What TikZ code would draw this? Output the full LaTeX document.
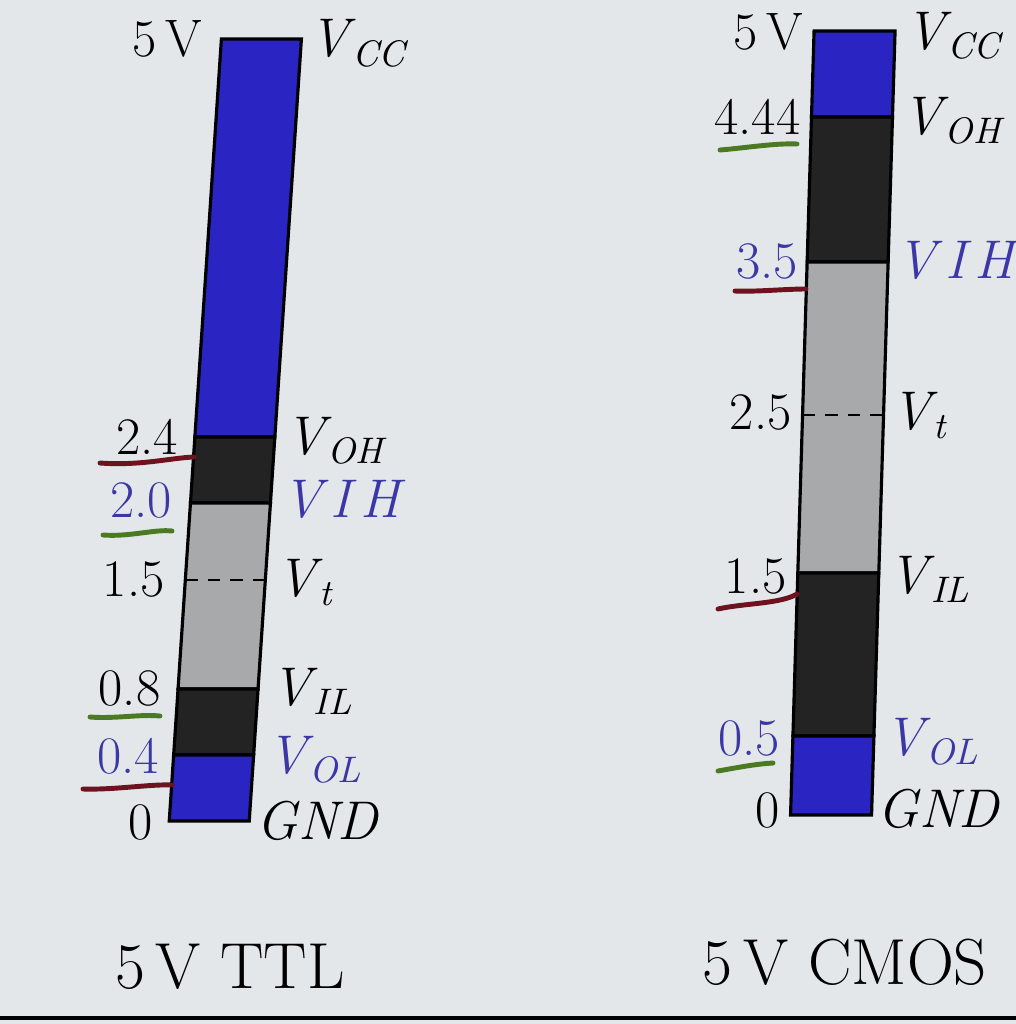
\documentclass[tikz,border=0pt]{standalone}
\usepackage{fontspec}
\usepackage{xcolor}
\definecolor{barblue}{HTML}{2A24C2}
\definecolor{bandblack}{HTML}{232323}
\definecolor{bandgray}{HTML}{A7A9AB}
\definecolor{inkblue}{HTML}{3B37A6}
\definecolor{penred}{HTML}{6E1220}
\definecolor{pengreen}{HTML}{4B7A22}
\definecolor{paper}{HTML}{E3E7EA}
\newcommand{\volt}[2]{\textit{#1}\kern-0.08em\raisebox{-0.18em}{\fontsize{10.5}{12}\selectfont\textit{#2}}}

\begin{document}
\begin{tikzpicture}[
    x=0.01cm, y=-0.01cm,
    band/.style={draw=black, line width=0.9pt, fill=#1},
    band/.default=bandgray,
    lvl/.style={font=\fontsize{15}{17}\selectfont, anchor=base east, inner sep=0pt},
    sig/.style={font=\fontsize{15.5}{18}\selectfont, anchor=base west, inner sep=0pt},
    pen/.style={draw=#1, line width=1.4pt, line cap=round},
    title/.style={font=\fontsize{18.5}{22}\selectfont, anchor=base},
    vt/.style={line width=0.8pt, dash pattern=on 3.6pt off 2.8pt}
]

\useasboundingbox[fill=paper] (0,0) rectangle (1016,1024);

% 5 V TTL bar
\begin{scope}[xslant=0.0667]
\draw[band=barblue] (224,39) rectangle (304,437);
\draw[band=bandblack] (224,437) rectangle (304,503);
\draw[band] (224,503) rectangle (304,689);
\draw[band=bandblack] (224,689) rectangle (304,755);
\draw[band=barblue] (224,755) rectangle (304,821);
\coordinate (ttl-vt-l) at (224,580);
\coordinate (ttl-vt-r) at (304,580);
\draw[vt] (ttl-vt-l) -- (ttl-vt-r);

\node[lvl] (ttl-5v) at (207,57) {5\,V};
\node[lvl] (ttl-24) at (209,454) {2.4};
\node[lvl, text=inkblue] (ttl-20) at (207,517) {2.0};
\node[lvl] (ttl-15) at (205,596) {1.5};
\node[lvl] (ttl-08) at (208,705) {0.8};
\node[lvl, text=inkblue] (ttl-04) at (211,773) {0.4};
\node[lvl] (ttl-0) at (209,839) {0};

\node[sig] (ttl-vcc) at (313,57) {\volt{V}{CC}};
\node[sig] (ttl-voh) at (315,454) {\volt{V}{OH}};
\node[sig, text=inkblue] (ttl-vih) at (316,517) {\textit{V\,I\,H}};
\node[sig] (ttl-vt) at (316,596) {\volt{V}{t}};
\node[sig] (ttl-vil) at (318,705) {\volt{V}{IL}};
\node[sig, text=inkblue] (ttl-vol) at (318,773) {\volt{V}{OL}};
\node[sig] (ttl-gnd) at (312,839) {\textit{GND}};
\end{scope}

% 5 V CMOS bar
\begin{scope}[xslant=0.03]
\draw[band=barblue] (815,31) rectangle (896,117);
\draw[band=bandblack] (815,117) rectangle (896,262);
\draw[band] (815,262) rectangle (896,573);
\draw[band=bandblack] (815,573) rectangle (896,736);
\draw[band=barblue] (815,736) rectangle (896,815);
\coordinate (cmos-vt-l) at (815,415);
\coordinate (cmos-vt-r) at (896,415);
\draw[vt] (cmos-vt-l) -- (cmos-vt-r);

\node[lvl] (cmos-5v) at (805,50) {5\,V};
\node[lvl] (cmos-444) at (805,134) {4.44};
\node[lvl, text=inkblue] (cmos-35) at (807,278) {3.5};
\node[lvl] (cmos-25) at (805,429) {2.5};
\node[lvl] (cmos-15) at (805,593) {1.5};
\node[lvl, text=inkblue] (cmos-05) at (803,755) {0.5};
\node[lvl] (cmos-0) at (805,827) {0};

\node[sig] (cmos-vcc) at (906,49) {\volt{V}{CC}};
\node[sig] (cmos-voh) at (906,134) {\volt{V}{OH}};
\node[sig, text=inkblue] (cmos-vih) at (904,278) {\textit{V\,I\,H}};
\node[sig] (cmos-vt) at (904,429) {\volt{V}{t}};
\node[sig] (cmos-vil) at (906,593) {\volt{V}{IL}};
\node[sig, text=inkblue] (cmos-vol) at (906,755) {\volt{V}{OL}};
\node[sig] (cmos-gnd) at (902,827) {\textit{GND}};
\end{scope}

% pen marks
\draw[pen=penred] (100,463) .. controls (140,466) and (170,458) .. (194,457);
\draw[pen=pengreen] (103,535) .. controls (130,537) and (155,529) .. (172,531);
\draw[pen=pengreen] (90,717) .. controls (115,719) and (140,714) .. (160,716);
\draw[pen=penred] (83,789) .. controls (115,790) and (150,784) .. (172,785);
\draw[pen=pengreen] (720,150) .. controls (745,148) and (775,143) .. (797,144);
\draw[pen=penred] (735,291) .. controls (755,292) and (785,289) .. (806,289);
\draw[pen=penred] (718,609) .. controls (745,603) and (780,604) .. (797,594);
\draw[pen=pengreen] (718,771) .. controls (735,768) and (755,764) .. (773,763);

% titles
\node[title] (ttl-title) at (230,988) {5\,V TTL};
\node[title] (cmos-title) at (845,984) {5\,V CMOS};
\draw[line width=1.1pt] (0,1018) -- (1016,1018);

\end{tikzpicture}
\end{document}
